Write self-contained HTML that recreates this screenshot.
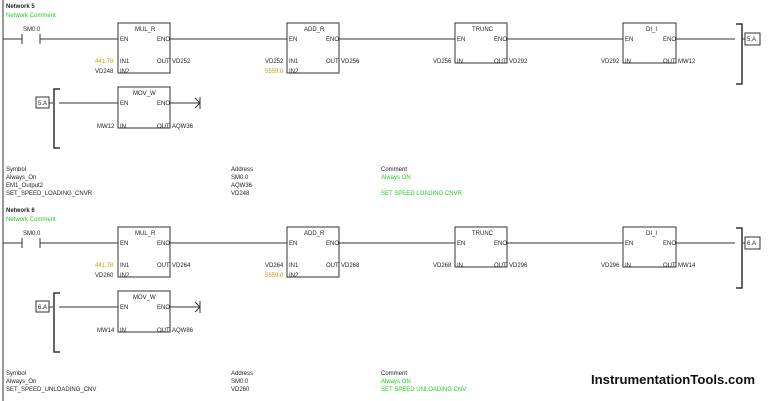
<!DOCTYPE html>
<html><head><style>
body{margin:0;background:#fff;width:768px;height:401px;overflow:hidden}
svg{display:block}
text{font-family:"Liberation Sans",Arial,sans-serif;font-size:6px;fill:#222}
.b{font-weight:bold}
.g{fill:#22cc22}
.y{fill:#b8a800}
.logo{font-size:13px;font-weight:bold;fill:#111}
</style></head><body>
<svg width="768" height="401" viewBox="0 0 768 401">
<defs>
<g id="net" stroke="#333" fill="none" stroke-width="1">
  <line x1="3" y1="39" x2="22" y2="39"/>
  <line x1="22" y1="34" x2="22" y2="44"/><line x1="40" y1="34" x2="40" y2="44"/>
  <line x1="40" y1="39" x2="118" y2="39"/>
  <rect x="118" y="23" width="52" height="50"/>
  <line x1="170" y1="39" x2="287" y2="39"/>
  <rect x="287" y="23" width="52" height="50"/>
  <line x1="339" y1="39" x2="455" y2="39"/>
  <rect x="455" y="23" width="52" height="40"/>
  <line x1="507" y1="39" x2="623" y2="39"/>
  <rect x="623" y="23" width="53" height="40"/>
  <line x1="676" y1="39" x2="735" y2="39"/>
  <path d="M736 24 H742 V84 H736" stroke-width="1.5"/>
  <line x1="742" y1="39" x2="745" y2="39"/>
  <rect x="745" y="33" width="15" height="12"/>
  <rect x="36" y="97" width="13" height="11"/>
  <line x1="49" y1="103" x2="53" y2="103"/>
  <path d="M60 89 H54 V148 H60" stroke-width="1.5"/>
  <line x1="59" y1="103" x2="118" y2="103"/>
  <rect x="118" y="87" width="52" height="41"/>
  <line x1="170" y1="103" x2="200" y2="103"/>
  <path d="M195 98 L200 103 L195 108 M200 97 V109"/>
</g>
</defs>

<line x1="3" y1="0" x2="3" y2="401" stroke="#333" stroke-width="1"/>

<g id="n5">
<use href="#net"/>
<text x="6" y="8" class="b">Network 5</text>
<text x="6" y="17" class="g">Network Comment</text>
<text x="23" y="31">SM0.0</text>
<text x="135" y="31">MUL_R</text><text x="120" y="41">EN</text><text x="157" y="41">ENO</text>
<text x="95" y="63" class="y">441.78</text><text x="120" y="63">IN1</text><text x="157" y="63">OUT</text><text x="172" y="63">VD252</text>
<text x="95" y="73">VD248</text><text x="120" y="73">IN2</text>
<text x="304" y="31">ADD_R</text><text x="289" y="41">EN</text><text x="326" y="41">ENO</text>
<text x="265" y="63">VD252</text><text x="289" y="63">IN1</text><text x="326" y="63">OUT</text><text x="341" y="63">VD256</text>
<text x="265" y="73" class="y">5559.0</text><text x="289" y="73">IN2</text>
<text x="472" y="31">TRUNC</text><text x="457" y="41">EN</text><text x="494" y="41">ENO</text>
<text x="433" y="63">VD256</text><text x="457" y="63">IN</text><text x="494" y="63">OUT</text><text x="509" y="63">VD292</text>
<text x="646" y="31">DI_I</text><text x="625" y="41">EN</text><text x="663" y="41">ENO</text>
<text x="601" y="63">VD292</text><text x="625" y="63">IN</text><text x="663" y="63">OUT</text><text x="678" y="63">MW12</text>
<text x="747" y="41">5.A</text>
<text x="38" y="105">5.A</text>
<text x="133" y="95">MOV_W</text><text x="120" y="105">EN</text><text x="157" y="105">ENO</text>
<text x="97" y="128">MW12</text><text x="120" y="128">IN</text><text x="157" y="128">OUT</text><text x="172" y="128">AQW36</text>
<text x="6" y="171">Symbol</text><text x="6" y="179">Always_On</text><text x="6" y="187">EM1_Output2</text><text x="6" y="195">SET_SPEED_LOADING_CNVR</text>
<text x="231" y="171">Address</text><text x="231" y="179">SM0.0</text><text x="231" y="187">AQW36</text><text x="231" y="195">VD248</text>
<text x="381" y="171">Comment</text><text x="381" y="179" class="g">Always ON</text><text x="381" y="195" class="g">SET SPEED LOADING CNVR</text>
</g>

<g transform="translate(0,204)">
<use href="#net"/>
<text x="6" y="8" class="b">Network 6</text>
<text x="6" y="17" class="g">Network Comment</text>
<text x="23" y="31">SM0.0</text>
<text x="135" y="31">MUL_R</text><text x="120" y="41">EN</text><text x="157" y="41">ENO</text>
<text x="95" y="63" class="y">441.78</text><text x="120" y="63">IN1</text><text x="157" y="63">OUT</text><text x="172" y="63">VD264</text>
<text x="95" y="73">VD260</text><text x="120" y="73">IN2</text>
<text x="304" y="31">ADD_R</text><text x="289" y="41">EN</text><text x="326" y="41">ENO</text>
<text x="265" y="63">VD264</text><text x="289" y="63">IN1</text><text x="326" y="63">OUT</text><text x="341" y="63">VD268</text>
<text x="265" y="73" class="y">5559.0</text><text x="289" y="73">IN2</text>
<text x="472" y="31">TRUNC</text><text x="457" y="41">EN</text><text x="494" y="41">ENO</text>
<text x="433" y="63">VD268</text><text x="457" y="63">IN</text><text x="494" y="63">OUT</text><text x="509" y="63">VD296</text>
<text x="646" y="31">DI_I</text><text x="625" y="41">EN</text><text x="663" y="41">ENO</text>
<text x="601" y="63">VD296</text><text x="625" y="63">IN</text><text x="663" y="63">OUT</text><text x="678" y="63">MW14</text>
<text x="747" y="41">6.A</text>
<text x="38" y="105">6.A</text>
<text x="133" y="95">MOV_W</text><text x="120" y="105">EN</text><text x="157" y="105">ENO</text>
<text x="97" y="128">MW14</text><text x="120" y="128">IN</text><text x="157" y="128">OUT</text><text x="172" y="128">AQW86</text>
<text x="6" y="171">Symbol</text><text x="6" y="179">Always_On</text><text x="6" y="187">SET_SPEED_UNLOADING_CNV</text>
<text x="231" y="171">Address</text><text x="231" y="179">SM0.0</text><text x="231" y="187">VD260</text>
<text x="381" y="171">Comment</text><text x="381" y="179" class="g">Always ON</text><text x="381" y="187" class="g">SET SPEED UNLOADING CNV</text>
</g>

<text x="591" y="384" class="logo" textLength="164" lengthAdjust="spacingAndGlyphs">InstrumentationTools.com</text>
</svg>
</body></html>
